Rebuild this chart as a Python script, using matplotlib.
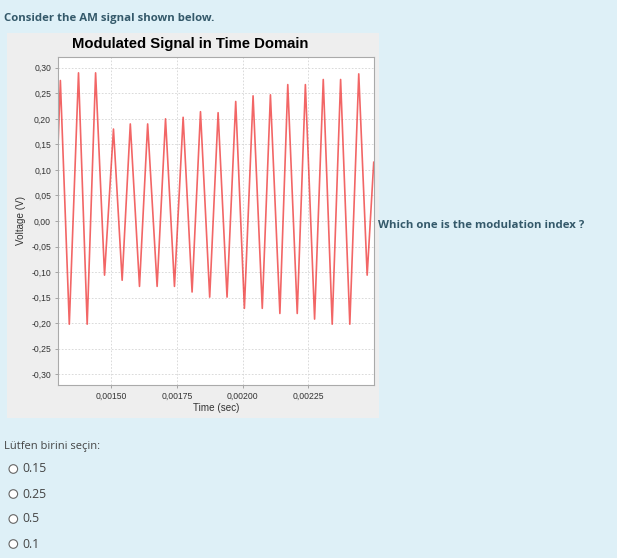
import matplotlib.pyplot as plt
from matplotlib.patches import Rectangle, Ellipse

# peaks / troughs of the AM waveform
time_s = [0.001299, 0.001307, 0.001341, 0.001376, 0.001409, 0.001441, 0.001475,
          0.001509, 0.001542, 0.001573, 0.001608, 0.001639, 0.001675, 0.001707,
          0.001741, 0.001774, 0.001808, 0.001840, 0.001875, 0.001907, 0.001941,
          0.001974, 0.002007, 0.002040, 0.002075, 0.002106, 0.002142, 0.002172,
          0.002208, 0.002239, 0.002274, 0.002307, 0.002341, 0.002373, 0.002408,
          0.002442, 0.002474, 0.002499]
voltage = [0.16, 0.275, -0.202, 0.29, -0.202, 0.29, -0.106,
           0.18, -0.116, 0.19, -0.128, 0.19, -0.128, 0.20,
           -0.128, 0.203, -0.139, 0.214, -0.149, 0.212, -0.149,
           0.234, -0.171, 0.245, -0.171, 0.247, -0.181, 0.267,
           -0.181, 0.267, -0.192, 0.277, -0.202, 0.277, -0.202,
           0.288, -0.106, 0.115]

x_ticks = [0.0015, 0.00175, 0.002, 0.00225]
x_labels = ["0,00150", "0,00175", "0,00200", "0,00225"]
y_ticks = [-0.30, -0.25, -0.20, -0.15, -0.10, -0.05, 0.0, 0.05, 0.10, 0.15, 0.20, 0.25, 0.30]
y_labels = ["-0,30", "-0,25", "-0,20", "-0,15", "-0,10", "-0,05", "0,00",
            "0,05", "0,10", "0,15", "0,20", "0,25", "0,30"]
choices = ["0.15", "0.25", "0.5", "0.1"]

W, H = 617, 558
fig = plt.figure(figsize=(W / 100, H / 100), dpi=100)
fig.patch.set_facecolor("#def0f7")


def fx(px):
    return px / W


def fy(py):
    return 1 - py / H


# grey chart panel
fig.add_artist(Rectangle((fx(7), fy(418)), fx(379) - fx(7), fy(33) - fy(418),
                         transform=fig.transFigure, facecolor="#eeeeee",
                         edgecolor="none", zorder=0))

ax = fig.add_axes([fx(58), fy(385), fx(374) - fx(58), fy(57) - fy(385)])
ax.set_facecolor("white")
ax.plot(time_s, voltage, color="#ee3333", lw=1.2, alpha=0.75)
ax.set_xlim(0.001298, 0.0025)
ax.set_ylim(-0.321, 0.321)
ax.set_xticks(x_ticks)
ax.set_xticklabels(x_labels)
ax.set_yticks(y_ticks)
ax.set_yticklabels(y_labels)
ax.grid(True, color="#d4d4d4", lw=0.6, ls=(0, (2, 2)))
ax.tick_params(labelsize=6.2, colors="#999999", labelcolor="#333333",
               length=2, width=0.6, pad=3)
for lbl in ax.get_xticklabels() + ax.get_yticklabels():
    lbl.set_family("Liberation Sans")
for s in ax.spines.values():
    s.set_color("#aaaaaa")
    s.set_linewidth(0.8)

fig.text(fx(190), fy(44), "Modulated Signal in Time Domain", ha="center", va="center",
         fontsize=10.7, fontweight="bold", family="Liberation Sans", color="black")
fig.text(fx(215.7), fy(407.7), "Time (sec)", ha="center", va="center",
         fontsize=7.1, family="Liberation Sans", color="#333333")
fig.text(fx(21), fy(220.7), "Voltage (V)", ha="center", va="center", rotation=90,
         fontsize=7.1, family="Liberation Sans", color="#333333")

# surrounding quiz text
fig.text(fx(4), fy(19), "Consider the AM signal shown below.", ha="left", va="center",
         fontsize=8.2, fontweight="bold", family="Open Sans", color="#34596a")
fig.text(fx(378), fy(225), "Which one is the modulation index ?", ha="left", va="center",
         fontsize=8.2, fontweight="bold", family="Open Sans", color="#34596a")
fig.text(fx(4), fy(447), "Lütfen birini seçin:", ha="left", va="center",
         fontsize=8, family="Open Sans", color="#444444")
for i, c in enumerate(choices):
    yy = 469 + i * 25
    fig.add_artist(Ellipse((fx(13.3), fy(yy)), 2 * 4.3 / W, 2 * 4.3 / H,
                           transform=fig.transFigure, facecolor="white",
                           edgecolor="#666666", lw=0.8))
    fig.text(fx(22.3), fy(yy), c, ha="left", va="center",
             fontsize=8.8, family="Open Sans", color="#444444")

plt.savefig("out.png", dpi=100, facecolor=fig.get_facecolor())
